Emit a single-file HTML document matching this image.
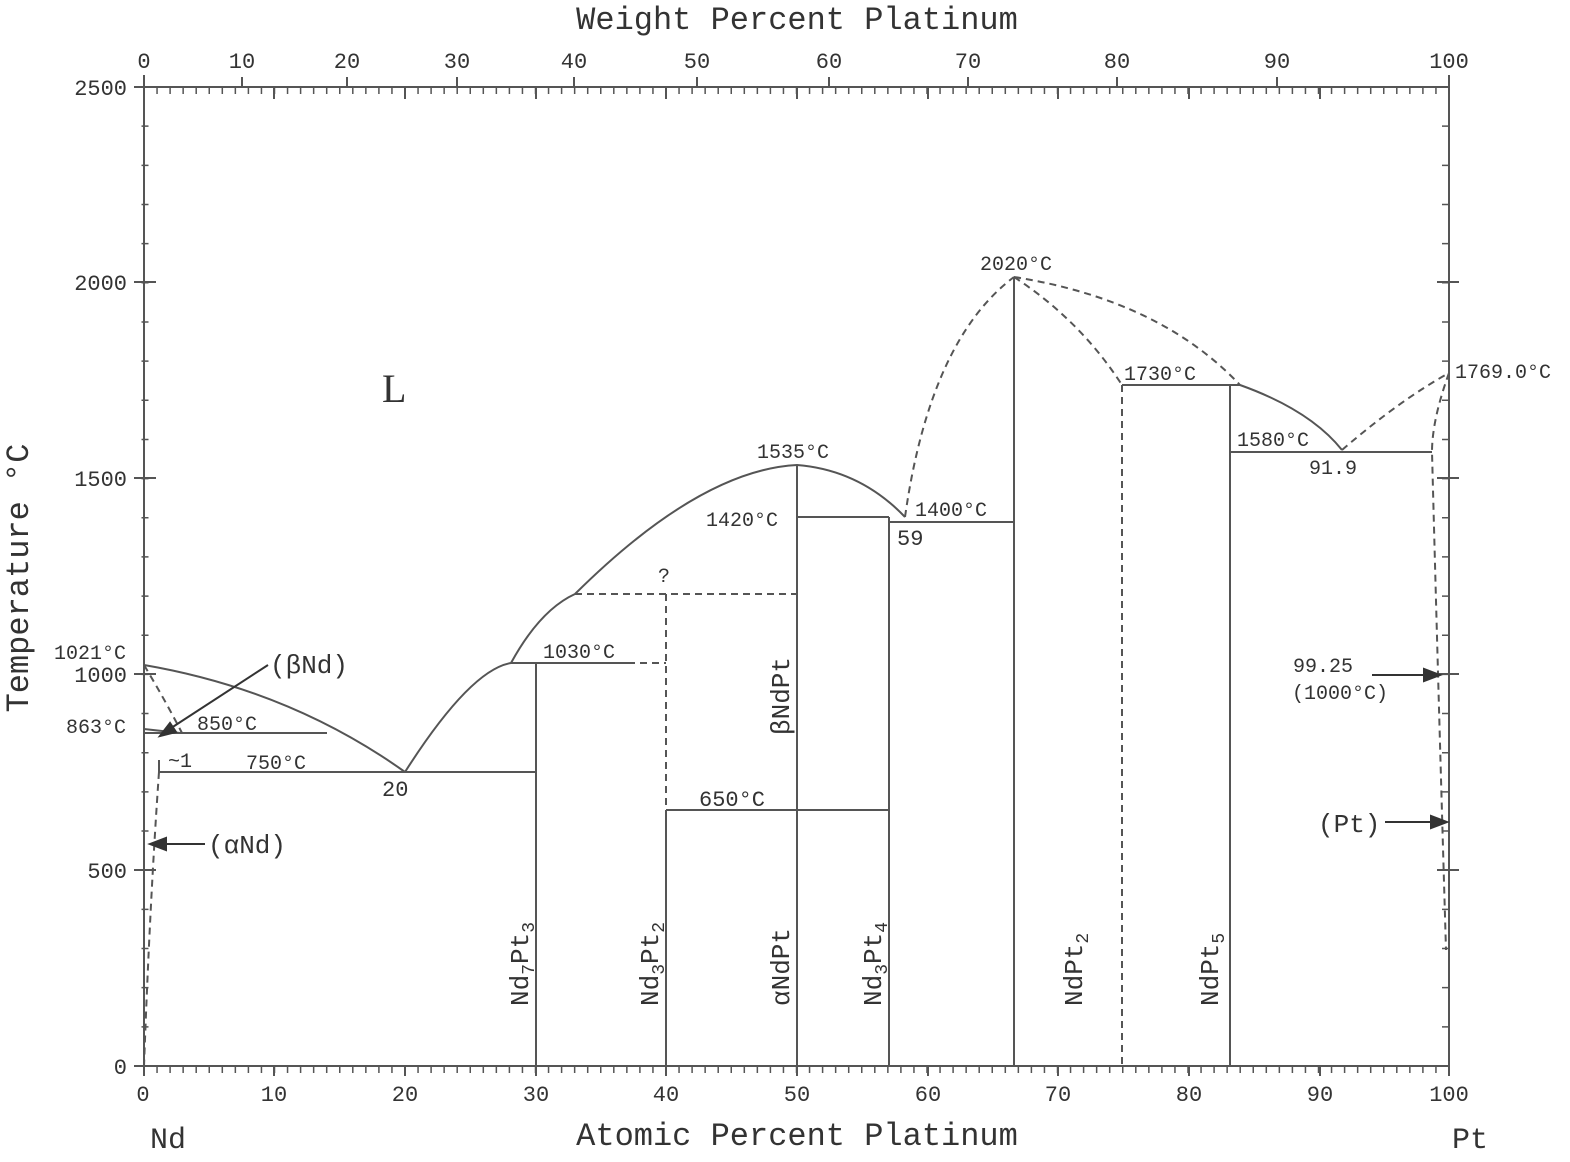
<!DOCTYPE html>
<html><head><meta charset="utf-8"><style>
html,body{margin:0;padding:0;background:#fff;}
svg text{font-family:"Liberation Mono","DejaVu Sans Mono",monospace;fill:#333;}
</style></head><body>
<svg width="1570" height="1157" viewBox="0 0 1570 1157" xmlns="http://www.w3.org/2000/svg">
<g stroke="#555" fill="none" stroke-width="2">
<rect x="144" y="87" width="1305" height="979"/>
<line x1="144" y1="90.5" x2="1450" y2="90.5" stroke-width="7" stroke-dasharray="1.5 11.55" stroke-dashoffset="0.75"/>
<line x1="144" y1="1069.5" x2="1450" y2="1069.5" stroke-width="7" stroke-dasharray="1.5 11.55" stroke-dashoffset="0.75"/>
<line x1="145" y1="1066" x2="145" y2="86" stroke-width="7" stroke-dasharray="1.5 37.66" stroke-dashoffset="0.75"/>
<line x1="1445.5" y1="1066" x2="1445.5" y2="86" stroke-width="7" stroke-dasharray="1.5 37.66" stroke-dashoffset="0.75"/>
<path d="M144,1066v10M274,1066v10M405,1066v10M536,1066v10M666,1066v10M797,1066v10M928,1066v10M1058,1066v10M1189,1066v10M1320,1066v10M1449,1066v10
M274,87v12M405,87v12M536,87v12M666,87v12M797,87v12M928,87v12M1058,87v12M1189,87v12M1320,87v12"/>
<path d="M144,87v-12M242,87v-10M347,87v-10M457,87v-10M574,87v-10M697,87v-10M829,87v-10M968,87v-10M1117,87v-10M1277,87v-10M1449,87v-12"/>
<path d="M134,1066h10M134,870h10M134,674h10M134,478h10M134,282h10M134,87h10M144,870h12M144,674h12M144,478h12M144,282h12
M1449,870h-12M1449,674h-12M1449,478h-12M1449,282h-12M1449,870h10M1449,674h10M1449,478h10M1449,282h10"/>
</g>
<g stroke="#555" fill="none" stroke-width="2">
<path d="M144,665 Q290,690 405,772"/>
<path d="M144,729 L180,733"/>
<path d="M144,733 H327"/>
<path d="M159,772 H536"/>
<path d="M159,772 V760"/>
<path d="M405,772 Q470,670 511,663 Q540,610 575,594 Q700,470 797,465 Q860,470 905,517"/>
<path d="M511,663 H628"/>
<path d="M536,663 V1066"/>
<path d="M666,810 V1066"/>
<path d="M666,810 H889"/>
<path d="M797,465 V1066"/>
<path d="M797,517 H889"/>
<path d="M889,517 V1066"/>
<path d="M889,522 H1014"/>
<path d="M1014,277 V1066"/>
<path d="M1122,385 H1240"/>
<path d="M1230,385 V1066"/>
<path d="M1240,385 Q1310,410 1342,450"/>
<path d="M1230,452 H1432"/>
</g>
<g stroke="#555" fill="none" stroke-width="2" stroke-dasharray="7 5">
<path d="M144,665 Q165,700 182,733"/>
<path d="M159,772 Q150,900 144,1066"/>
<path d="M628,663 H666"/>
<path d="M575,594 H797"/>
<path d="M666,594 V810"/>
<path d="M905,517 Q930,340 1014,277"/>
<path d="M1014,277 Q1080,320 1122,385"/>
<path d="M1014,277 Q1160,300 1240,385"/>
<path d="M1122,385 V1066"/>
<path d="M1342,450 Q1400,400 1449,373"/>
<path d="M1449,373 Q1432,420 1432,452 Q1438,680 1446,950"/>
</g>
<g stroke="#333" stroke-width="2" fill="#333">
<path d="M268,665 L165,732" fill="none"/><path d="M160,736 l16,-4 l-6,-9z"/>
<path d="M205,844 H160" fill="none"/><path d="M150,844 l16,-6 v12z"/>
<path d="M1372,675 H1430" fill="none"/><path d="M1440,675 l-16,-6 v12z"/>
<path d="M1385,822 H1437" fill="none"/><path d="M1447,822 l-16,-6 v12z"/>
</g>
<g font-size="22" text-anchor="middle">
<text x="143" y="1101">0</text><text x="274" y="1101">10</text><text x="405" y="1101">20</text><text x="536" y="1101">30</text><text x="666" y="1101">40</text><text x="797" y="1101">50</text><text x="928" y="1101">60</text><text x="1058" y="1101">70</text><text x="1189" y="1101">80</text><text x="1320" y="1101">90</text><text x="1449" y="1101">100</text>
<text x="144" y="68">0</text><text x="242" y="68">10</text><text x="347" y="68">20</text><text x="457" y="68">30</text><text x="574" y="68">40</text><text x="697" y="68">50</text><text x="829" y="68">60</text><text x="968" y="68">70</text><text x="1117" y="68">80</text><text x="1277" y="68">90</text><text x="1449" y="68">100</text>
</g>
<g font-size="22" text-anchor="end">
<text x="127" y="1074">0</text><text x="127" y="878">500</text><text x="127" y="682">1000</text><text x="127" y="486">1500</text><text x="127" y="290">2000</text><text x="127" y="95">2500</text>
</g>
<text x="797" y="29" font-size="32" text-anchor="middle">Weight Percent Platinum</text>
<text x="797" y="1145" font-size="32" text-anchor="middle">Atomic Percent Platinum</text>
<text x="168" y="1148" font-size="30" text-anchor="middle">Nd</text>
<text x="1470" y="1148" font-size="30" text-anchor="middle">Pt</text>
<text transform="translate(28,578) rotate(-90)" font-size="32" text-anchor="middle">Temperature °C</text>
<text x="382" y="402" font-size="40" style="font-family:'Liberation Serif',serif">L</text>
<g font-size="20">
<text x="54" y="659">1021°C</text>
<text x="66" y="733">863°C</text>
<text x="197" y="730">850°C</text>
<text x="168" y="767">~1</text>
<text x="246" y="769">750°C</text>
<text x="382" y="796" font-size="22">20</text>
<text x="543" y="658">1030°C</text>
<text x="658" y="582">?</text>
<text x="757" y="458">1535°C</text>
<text x="706" y="526">1420°C</text>
<text x="915" y="516">1400°C</text>
<text x="897" y="545" font-size="22">59</text>
<text x="980" y="270">2020°C</text>
<text x="1124" y="380">1730°C</text>
<text x="1237" y="446">1580°C</text>
<text x="1309" y="474">91.9</text>
<text x="1455" y="378">1769.0°C</text>
<text x="1293" y="672">99.25</text>
<text x="1292" y="699">(1000°C)</text>
<text x="699" y="806" font-size="22">650°C</text>
</g>
<g font-size="26">
<text x="270" y="673">(βNd)</text>
<text x="208" y="853">(αNd)</text>
<text x="1318" y="832">(Pt)</text>
</g>
<g font-size="26" text-anchor="start">
<text transform="translate(528,1006) rotate(-90)">Nd<tspan font-size="18" dy="6">7</tspan><tspan dy="-6">Pt</tspan><tspan font-size="18" dy="6">3</tspan></text>
<text transform="translate(658,1006) rotate(-90)">Nd<tspan font-size="18" dy="6">3</tspan><tspan dy="-6">Pt</tspan><tspan font-size="18" dy="6">2</tspan></text>
<text transform="translate(789,1006) rotate(-90)">αNdPt</text>
<text transform="translate(789,735) rotate(-90)">βNdPt</text>
<text transform="translate(881,1006) rotate(-90)">Nd<tspan font-size="18" dy="6">3</tspan><tspan dy="-6">Pt</tspan><tspan font-size="18" dy="6">4</tspan></text>
<text transform="translate(1082,1006) rotate(-90)">NdPt<tspan font-size="18" dy="6">2</tspan></text>
<text transform="translate(1218,1006) rotate(-90)">NdPt<tspan font-size="18" dy="6">5</tspan></text>
</g>
</svg>
</body></html>
